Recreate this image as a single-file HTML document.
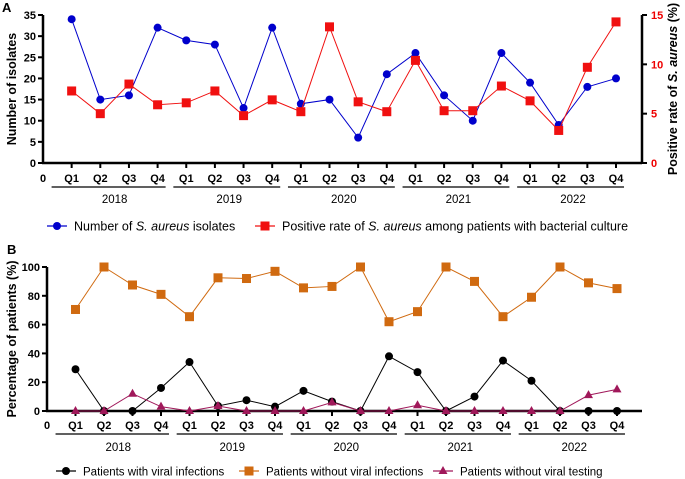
<!DOCTYPE html>
<html><head><meta charset="utf-8"><style>
body{margin:0;background:#fff}
svg{display:block;font-family:"Liberation Sans",Arial,sans-serif}
</style></head><body>
<svg id="c" width="685" height="479" viewBox="0 0 685 479"></svg>
<script>
const quarters=["Q1","Q2","Q3","Q4"];
const years=["2018","2019","2020","2021","2022"];
const isolates=[34,15,16,32,29,28,13,32,14,15,6,21,26,16,10,26,19,9,18,20];
const posRate=[7.3,5.0,8.0,5.9,6.1,7.3,4.8,6.4,5.2,13.8,6.2,5.2,10.4,5.3,5.3,7.8,6.3,3.3,9.7,14.3];
const leftTicksA=[0,5,10,15,20,25,30,35];
const rightTicksA=[0,5,10,15];
const withViral=[29,0,0,16,34,3.5,7.5,3,14,6.5,0,38,27,0,10,35,21,0,0,0];
const withoutViral=[70.5,100,87.5,81,65.5,92.5,92,97,85.5,86.5,100,62,69,100,90,65.5,79,100,89,85];
const noTesting=[0,0,12,3,0,3.5,0,0,0,6,0,0,4,0,0,0,0,0,11,15];
const ticksB=[0,20,40,60,80,100];

const svg=document.getElementById('c');
const NS='http://www.w3.org/2000/svg';
function mk(tag,attrs,parent,text){const e=document.createElementNS(NS,tag);for(const k in attrs)e.setAttribute(k,attrs[k]);if(text!==undefined)e.textContent=text;(parent||svg).appendChild(e);return e;}
function grp(name){const g=mk('g',{});return g;}

function panel(o){
  const x=i=>o.x0+(i+1)*o.step;
  const g=grp(o.name);
  const pl=mk('text',{x:o.letterX,y:o.letterY,'font-size':13,'font-weight':'bold'},g,o.letter);
  
  const ya=grp('y-axis');g.appendChild(ya);
  mk('line',{x1:o.x0,y1:o.y0+1,x2:o.x0,y2:o.yTop,stroke:'#000','stroke-width':2.5},ya);
  o.ticks.forEach(t=>{const yy=o.yL(t);
    mk('line',{x1:o.x0-5,y1:yy,x2:o.x0,y2:yy,stroke:'#000','stroke-width':2},ya);
    const tl=mk('text',{x:o.x0-7,y:yy+4,'font-size':11,'font-weight':'bold','text-anchor':'end'},ya,t);
    });
  const yt=mk('text',{transform:`translate(${o.titleX},${o.titleY}) rotate(-90)`,'font-size':12.5,'font-weight':'bold','text-anchor':'middle'},g);
  yt.innerHTML=o.title;
  
  if(o.right){
    const ra=grp('right-y-axis');g.appendChild(ra);
    mk('line',{x1:o.xR,y1:o.y0+1,x2:o.xR,y2:o.yTop,stroke:'#000','stroke-width':2.5},ra);
    o.right.ticks.forEach(t=>{const yy=o.right.y(t);
      mk('line',{x1:o.xR,y1:yy,x2:o.xR+5,y2:yy,stroke:'#000','stroke-width':2},ra);
      const tl=mk('text',{x:o.xR+9,y:yy+4,'font-size':11,'font-weight':'bold',fill:'#e00'},ra,t);
      });
    const rt=mk('text',{transform:`translate(677,${o.titleY}) rotate(-90)`,'font-size':12.5,'font-weight':'bold','text-anchor':'middle'},ra);
    rt.innerHTML='Positive rate of <tspan font-style="italic">S. aureus</tspan> (%)';
    
  }
  const xa=grp('x-axis');g.appendChild(xa);
  mk('line',{x1:o.x0-1,y1:o.y0,x2:o.xR,y2:o.y0,stroke:'#000','stroke-width':2.5},xa);
  const z=mk('text',{x:o.x0,y:o.qY,'font-size':11,'font-weight':'bold','text-anchor':'middle'},xa,'0');
  
  for(let i=0;i<20;i++){
    mk('line',{x1:x(i),y1:o.y0,x2:x(i),y2:o.y0+5,stroke:'#000','stroke-width':2},xa);
    const ql=mk('text',{x:x(i),y:o.qY,'font-size':11,'font-weight':'bold','text-anchor':'middle'},xa,quarters[i%4]);
    
  }
  years.forEach((yr,k)=>{
    const a=x(k*4)-o.step*(k===0?0.7:0.45), b=x(k*4+3)+o.step*0.28;
    mk('line',{x1:a,y1:o.lineY,x2:b,y2:o.lineY,stroke:'#000','stroke-width':1.3},xa);
    const yl=mk('text',{x:(x(k*4)+x(k*4+3))/2,y:o.yearY,'font-size':11.5,'text-anchor':'middle'},xa,yr);
    
  });
  o.series.forEach(s=>{
    const sg=grp(s.name);g.appendChild(sg);
    const ys=s.y||o.yL;
    mk('polyline',{points:s.data.map((v,i)=>x(i)+','+ys(v)).join(' '),fill:'none',stroke:s.color,'stroke-width':1},sg);
    s.data.forEach((v,i)=>{const px=x(i),py=ys(v);let m;
      if(s.shape==='c')m=mk('circle',{cx:px,cy:py,r:4,fill:s.color},sg);
      else if(s.shape==='s')m=mk('rect',{x:px-4.5,y:py-4.5,width:9,height:9,fill:s.color},sg);
      else m=mk('polygon',{points:`${px},${py-5} ${px-4.5},${py+3} ${px+4.5},${py+3}`,fill:s.color},sg);
      });
  });
  const lg=grp('legend');g.appendChild(lg);
  o.legend.forEach(l=>{
    const eg=grp('legend-entry');lg.appendChild(eg);
    mk('line',{x1:l.x-10,y1:o.legY,x2:l.x+10,y2:o.legY,stroke:l.color,'stroke-width':1.2},eg);
    if(l.shape==='c')mk('circle',{cx:l.x,cy:o.legY,r:4,fill:l.color},eg);
    else if(l.shape==='s')mk('rect',{x:l.x-4.5,y:o.legY-4.5,width:9,height:9,fill:l.color},eg);
    else mk('polygon',{points:`${l.x},${o.legY-5} ${l.x-4.5},${o.legY+3} ${l.x+4.5},${o.legY+3}`,fill:l.color},eg);
    const t=mk('text',{x:l.x+17,y:o.legY+4.5,'font-size':o.legFont},eg);t.innerHTML=l.text;
  });
}

const yA=v=>163-v*(148/35);
const yAR=v=>163-v*(148/15);
panel({name:'panel-a',letter:'A',letterX:2,letterY:12,x0:43,step:28.65,y0:163,yTop:15,xR:642,
  yL:yA,ticks:leftTicksA,title:'Number of isolates',titleX:16,titleY:89,
  right:{ticks:rightTicksA,y:yAR},qY:182,lineY:187,yearY:203,legY:226,legFont:12.5,
  series:[{name:'series-isolates',data:isolates,color:'#0000cc',shape:'c'},
          {name:'series-positive-rate',data:posRate,color:'#f01010',shape:'s',y:yAR}],
  legend:[{x:57,color:'#0000cc',shape:'c',text:'Number of <tspan font-style="italic">S. aureus</tspan> isolates'},
          {x:265,color:'#f01010',shape:'s',text:'Positive rate of <tspan font-style="italic">S. aureus</tspan> among patients with bacterial culture'}]});

const yB=v=>411-v*1.44;
panel({name:'panel-b',letter:'B',letterX:7,letterY:254,x0:47,step:28.5,y0:411,yTop:267,xR:642,
  yL:yB,ticks:ticksB,title:'Percentage of patients (%)',titleX:16,titleY:339,
  qY:429,lineY:434,yearY:451,legY:471,legFont:11.5,
  series:[{name:'series-without-viral',data:withoutViral,color:'#d06a10',shape:'s'},
          {name:'series-with-viral',data:withViral,color:'#000',shape:'c'},
          {name:'series-no-testing',data:noTesting,color:'#a0185a',shape:'t'}],
  legend:[{x:66,color:'#000',shape:'c',text:'Patients with viral infections'},
          {x:249,color:'#d06a10',shape:'s',text:'Patients without viral infections'},
          {x:443,color:'#a0185a',shape:'t',text:'Patients without viral testing'}]});
</script>
</body></html>
